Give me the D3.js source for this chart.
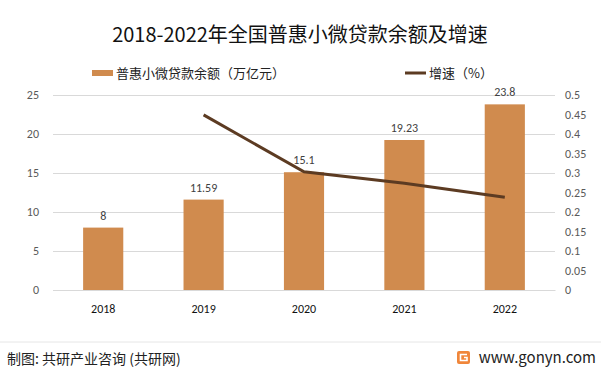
<!DOCTYPE html>
<html>
<head>
<meta charset="utf-8">
<script src="https://cdn.jsdelivr.net/npm/d3@7"></script>
<style>
  body { margin: 0; background: #fff; }
  text { font-family: "Microsoft YaHei", "Noto Sans CJK SC", sans-serif; }
</style>
</head>
<body>
<svg class="chart" width="601" height="374"></svg>
<script>
// data
const years = ["2018", "2019", "2020", "2021", "2022"]
const balance = [8, 11.59, 15.1, 19.23, 23.8]
const growth = [null, 0.449, 0.303, 0.274, 0.238]
const leftTicks = [0, 5, 10, 15, 20, 25]
const rightTicks = [0, 0.05, 0.1, 0.15, 0.2, 0.25, 0.3, 0.35, 0.4, 0.45, 0.5]

const barColor = "#d08b4e"
const lineColor = "#5c3b22"

const svg = d3.select("svg.chart")

const plotL = 53, plotR = 555, plotT = 95, plotB = 290

const x = d3.scaleBand()
  .domain(years)
  .range([plotL, plotR])
  .paddingInner(0.6)
  .paddingOuter(0.3)

const yLeft = d3.scaleLinear()
  .domain([0, 25])
  .range([plotB, plotT])

const yRight = d3.scaleLinear()
  .domain([0, 0.5])
  .range([plotB, plotT])

// title
svg.append("text")
  .attr("x", 300).attr("y", 42)
  .attr("text-anchor", "middle")
  .attr("font-size", 20)
  .attr("fill", "#111")
  .text("2018-2022年全国普惠小微贷款余额及增速")

// legend
svg.append("rect")
  .attr("x", 92).attr("y", 70).attr("width", 21).attr("height", 6)
  .attr("fill", barColor)
svg.append("text")
  .attr("x", 116).attr("y", 78)
  .attr("font-size", 13).attr("fill", "#222")
  .text("普惠小微贷款余额（万亿元）")
svg.append("line")
  .attr("x1", 405).attr("x2", 426).attr("y1", 73).attr("y2", 73)
  .attr("stroke", lineColor).attr("stroke-width", 3)
svg.append("text")
  .attr("x", 429).attr("y", 78)
  .attr("font-size", 13).attr("fill", "#222")
  .text("增速（%）")

// gridlines + left axis
const gl = svg.append("g")
  .attr("transform", `translate(${plotL},0)`)
  .call(d3.axisLeft(yLeft).tickValues(leftTicks).tickSize(plotL - plotR).tickPadding(14))
gl.select(".domain").remove()
gl.selectAll(".tick line").attr("stroke", "#d9d9d9")
gl.selectAll(".tick text")
  .attr("font-size", 12).attr("fill", "#595959")
  .style("font-family", "Calibri, 'Liberation Sans', sans-serif")

// right axis
const gr = svg.append("g")
  .attr("transform", `translate(${plotR},0)`)
  .call(d3.axisRight(yRight).tickValues(rightTicks).tickSize(0).tickPadding(10)
    .tickFormat(d => d3.format("~g")(d)))
gr.select(".domain").remove()
gr.selectAll(".tick text")
  .attr("font-size", 12).attr("fill", "#595959")
  .style("font-family", "Calibri, 'Liberation Sans', sans-serif")

// x axis
const gx = svg.append("g")
  .attr("transform", `translate(0,${plotB})`)
  .call(d3.axisBottom(x).tickSize(0).tickPadding(14))
gx.select(".domain").attr("stroke", "#d9d9d9")
gx.selectAll(".tick text")
  .attr("font-size", 12).attr("fill", "#111")
  .style("font-family", "Calibri, 'Liberation Sans', sans-serif")

// bars
const groups = svg.selectAll("g.bar")
  .data(balance)
  .enter()
  .append("g")
  .attr("class", "bar")

groups.append("rect")
  .attr("x", (d, i) => x(years[i]))
  .attr("y", d => yLeft(d))
  .attr("width", x.bandwidth())
  .attr("height", d => plotB - yLeft(d))
  .attr("fill", barColor)

groups.append("text")
  .attr("x", (d, i) => x(years[i]) + x.bandwidth() / 2)
  .attr("y", d => yLeft(d) - 8)
  .attr("text-anchor", "middle")
  .attr("font-size", 12).attr("fill", "#404040")
  .style("font-family", "Calibri, 'Liberation Sans', sans-serif")
  .text(d => d)

// growth line
const line = d3.line()
  .defined(d => d != null)
  .x((d, i) => x(years[i]) + x.bandwidth() / 2)
  .y(d => yRight(d))

svg.append("path")
  .datum(growth)
  .attr("d", line)
  .attr("fill", "none")
  .attr("stroke", lineColor)
  .attr("stroke-width", 3)

// footer
svg.append("line")
  .attr("x1", 0).attr("x2", 601).attr("y1", 342).attr("y2", 342)
  .attr("stroke", "#e6e6e6")
svg.append("text")
  .attr("x", 7).attr("y", 364)
  .attr("font-size", 14).attr("fill", "#222")
  .text("制图: 共研产业咨询 (共研网)")
// little logo
const logo = svg.append("g").attr("transform", "translate(457,351)")
logo.append("rect")
  .attr("width", 13).attr("height", 13).attr("rx", 2)
  .attr("fill", "#f0863a")
logo.append("path")
  .attr("d", "M10,3.5 H3.5 V9.5 H10 V6.5 H7")
  .attr("fill", "none").attr("stroke", "#fff").attr("stroke-width", 1.6)
svg.append("text")
  .attr("x", 596).attr("y", 363)
  .attr("text-anchor", "end")
  .attr("font-size", 15).attr("fill", "#222")
  .text("www.gonyn.com")
</script>
</body>
</html>
